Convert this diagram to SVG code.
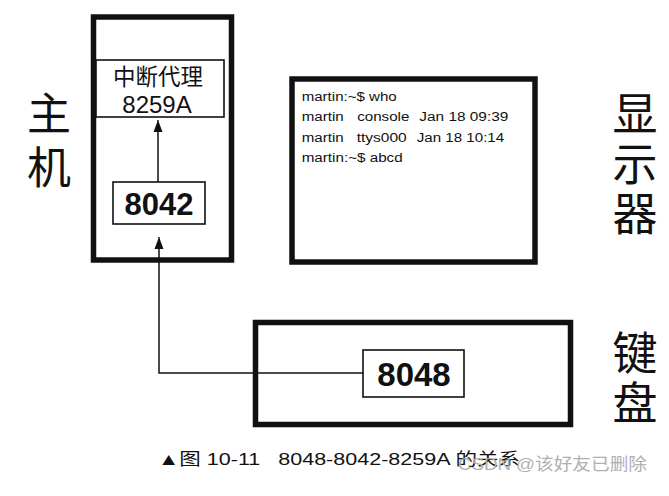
<svg xmlns="http://www.w3.org/2000/svg" width="669" height="496" viewBox="0 0 669 496">
<style>
.thick{fill:#fff;stroke:#111;stroke-width:5.5}
.thin{fill:#fff;stroke:#111;stroke-width:1.6}
.cjk{font-family:"Noto Sans CJK SC","Noto Sans",sans-serif;fill:#111}
.vert{writing-mode:vertical-rl;font-family:"Noto Sans CJK SC","Noto Sans",sans-serif;fill:#111}
.num{font-family:"Liberation Sans",Arial,sans-serif;font-weight:bold;fill:#111}
.term{font-family:"Liberation Sans",Arial,sans-serif;font-size:12.5px;fill:#111}
.conn{fill:none;stroke:#111;stroke-width:1.5}
</style>
<defs>
<marker id="ah" markerUnits="userSpaceOnUse" markerWidth="10" markerHeight="13" viewBox="0 0 10 13" refX="12" refY="5" orient="auto">
<path d="M0,0.5 L12,5 L0,9.5 Z" fill="#111"/>
</marker>
</defs>
<rect width="669" height="496" fill="#fff"/>
<g id="host">
<rect class="thick" x="93.5" y="17" width="138" height="243"/>
<text class="vert" x="49" y="91" font-size="44" letter-spacing="10">主机</text>
</g>
<g id="pic8259">
<rect class="thin" x="96" y="60" width="128" height="57"/>
<text class="cjk" x="158" y="84.5" font-size="22.5" text-anchor="middle">中断代理</text>
<text x="157" y="113" font-size="24" text-anchor="middle" font-family="Liberation Sans, Arial, sans-serif" fill="#111">8259A</text>
</g>
<g id="kbc8042">
<rect class="thin" x="113" y="182" width="92" height="42"/>
<text class="num" x="159" y="215" font-size="31" text-anchor="middle">8042</text>
</g>
<g id="display">
<rect class="thick" x="292" y="79" width="243" height="183"/>
<text class="term" x="301.7" y="100.7" textLength="95" lengthAdjust="spacingAndGlyphs">martin:~$ who</text>
<text class="term" x="301.7" y="121.2" textLength="42" lengthAdjust="spacingAndGlyphs">martin</text>
<text class="term" x="357.3" y="121.2" textLength="52" lengthAdjust="spacingAndGlyphs">console</text>
<text class="term" x="419.3" y="121.2" textLength="89" lengthAdjust="spacingAndGlyphs">Jan 18 09:39</text>
<text class="term" x="301.7" y="141.5" textLength="42" lengthAdjust="spacingAndGlyphs">martin</text>
<text class="term" x="356.7" y="141.5" textLength="50" lengthAdjust="spacingAndGlyphs">ttys000</text>
<text class="term" x="416.7" y="141.5" textLength="87.5" lengthAdjust="spacingAndGlyphs">Jan 18 10:14</text>
<text class="term" x="301.7" y="161.7" textLength="101" lengthAdjust="spacingAndGlyphs">martin:~$ abcd</text>
<text class="vert" x="635" y="91" font-size="45" letter-spacing="5">显示器</text>
</g>
<g id="keyboard">
<rect class="thick" x="255.5" y="322.5" width="315" height="102"/>
<rect class="thin" x="363" y="350" width="101" height="47"/>
<text class="num" x="414" y="386" font-size="33" text-anchor="middle">8048</text>
<text class="vert" x="635" y="330" font-size="45" letter-spacing="5">键盘</text>
</g>
<g id="connectors">
<line class="conn" x1="158" y1="182" x2="158" y2="120" marker-end="url(#ah)"/>
<path class="conn" d="M363,373 H159 V237" marker-end="url(#ah)"/>
</g>
<g id="caption">
<text x="158" y="465" font-size="17" textLength="362" lengthAdjust="spacingAndGlyphs" font-family="Liberation Sans, 'Noto Sans CJK SC', sans-serif" fill="#111" xml:space="preserve">▲图 10-11   8048-8042-8259A 的关系</text>
<text x="458" y="470" font-size="17" textLength="189" lengthAdjust="spacingAndGlyphs" font-family="Liberation Sans, 'Noto Sans CJK SC', sans-serif" fill="#b0b0b0">CSDN @该好友已删除</text>
</g>
</svg>
